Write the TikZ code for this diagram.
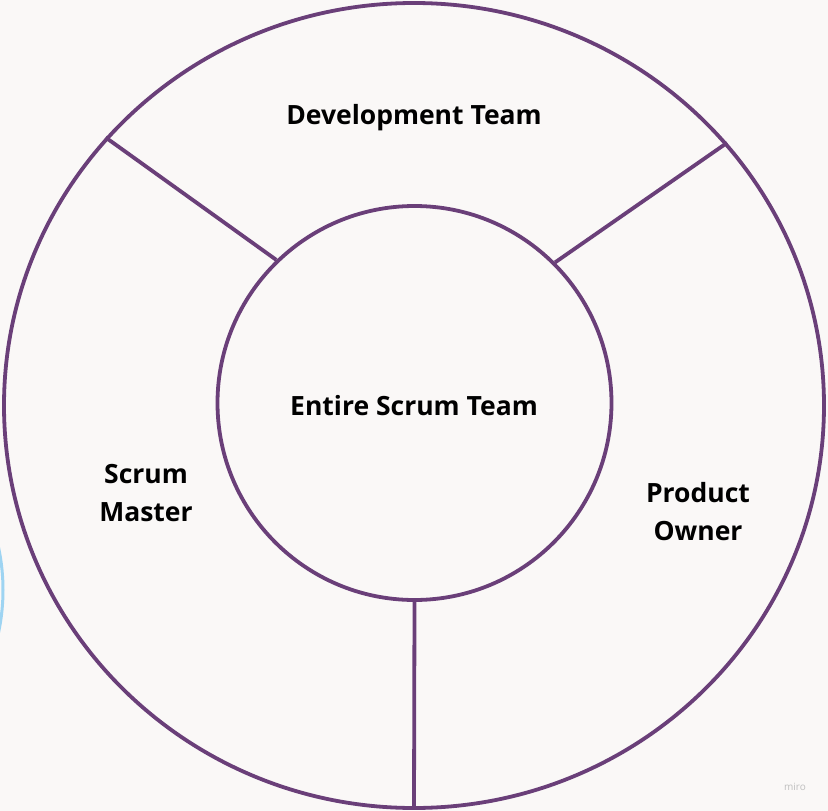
\documentclass[tikz,border=0pt]{standalone}
\usepackage{fontspec}
\usetikzlibrary{shapes.geometric}
\setmainfont{Open Sans}
\definecolor{ring}{HTML}{6A3F79}
\definecolor{bg}{HTML}{FAF8F7}
\definecolor{sky}{HTML}{9ED4F2}
\begin{document}
\begin{tikzpicture}[x=1pt,y=-1pt,
  ringline/.style={draw=ring, line width=3.8pt},
  lbl/.style={font=\fontsize{26.5}{38}\selectfont\bfseries, text=black, align=center, inner sep=0pt}]
\useasboundingbox (0,0) rectangle (828,811);
\fill[bg] (0,0) rectangle (828,811);
\begin{scope}
\clip (0,0) rectangle (828,811);
\draw[sky, line width=3pt] (-200,590) circle (203pt);
\end{scope}
\node[ellipse, ringline, minimum width=820pt, minimum height=805pt, inner sep=0pt] (outer) at (414,405.5) {};
\node[circle, ringline, minimum size=394pt, inner sep=0pt] (inner) at (414.5,403) {};
\draw[ringline] (inner.134.4) -- (outer.139.6);
\draw[ringline] (inner.45.6) -- (outer.40.4);
\draw[ringline] (inner.south) -- (outer.south);
\node[lbl] (dev) at (414,117.5) {Development Team};
\node[lbl] (est) at (414,406) {Entire Scrum Team};
\node[lbl] (sm) at (146,493) {Scrum\\Master};
\node[lbl] (po) at (698,512) {Product\\Owner};
\node[font=\fontsize{10}{12}\selectfont, text=black!25, inner sep=0pt] (miro) at (795,787) {miro};
\end{tikzpicture}
\end{document}
